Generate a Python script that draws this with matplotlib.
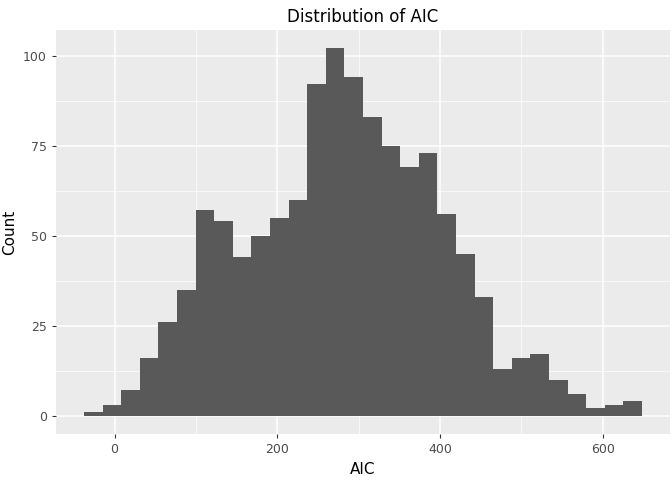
import matplotlib
matplotlib.use("Agg")
import matplotlib.pyplot as plt
import numpy as np

counts = [1, 3, 7, 16, 26, 35, 57, 54, 44, 50, 55, 60, 92, 102, 94, 83, 75, 69, 73, 56, 45, 33, 13, 16, 17, 10, 6, 2, 3, 4]
bin_start, bin_end = -37.6, 648.4
edges = np.linspace(bin_start, bin_end, len(counts) + 1)
xticks = [0, 200, 400, 600]
yticks = [0, 25, 50, 75, 100]

fig = plt.figure(figsize=(6.72, 4.8), dpi=100)
ax = fig.add_axes([56/672, 1 - 434/480, (670-56)/672, (434-30)/480])
ax.set_facecolor("#EBEBEB")
ax.hist(edges[:-1], bins=edges, weights=counts, color="#595959")
ax.set_xlim(-72, 682.7)
ax.set_ylim(-5.1, 107.1)
ax.set_xticks(xticks)
ax.set_yticks(yticks)
ax.set_xticks([100, 300, 500], minor=True)
ax.set_yticks([12.5, 37.5, 62.5, 87.5], minor=True)
ax.grid(which="major", color="white", lw=1.1)
ax.grid(which="minor", color="white", lw=0.5)
ax.set_axisbelow(True)
for s in ax.spines.values():
    s.set_visible(False)
ax.tick_params(which="major", colors="#333333", labelcolor="#4D4D4D", length=3, labelsize=9)
ax.tick_params(which="minor", length=0)
ax.set_xlabel("AIC", fontsize=11)
ax.set_ylabel("Count", fontsize=11)
ax.set_title("Distribution of AIC", fontsize=12)
fig.savefig("out.png", dpi=100)
